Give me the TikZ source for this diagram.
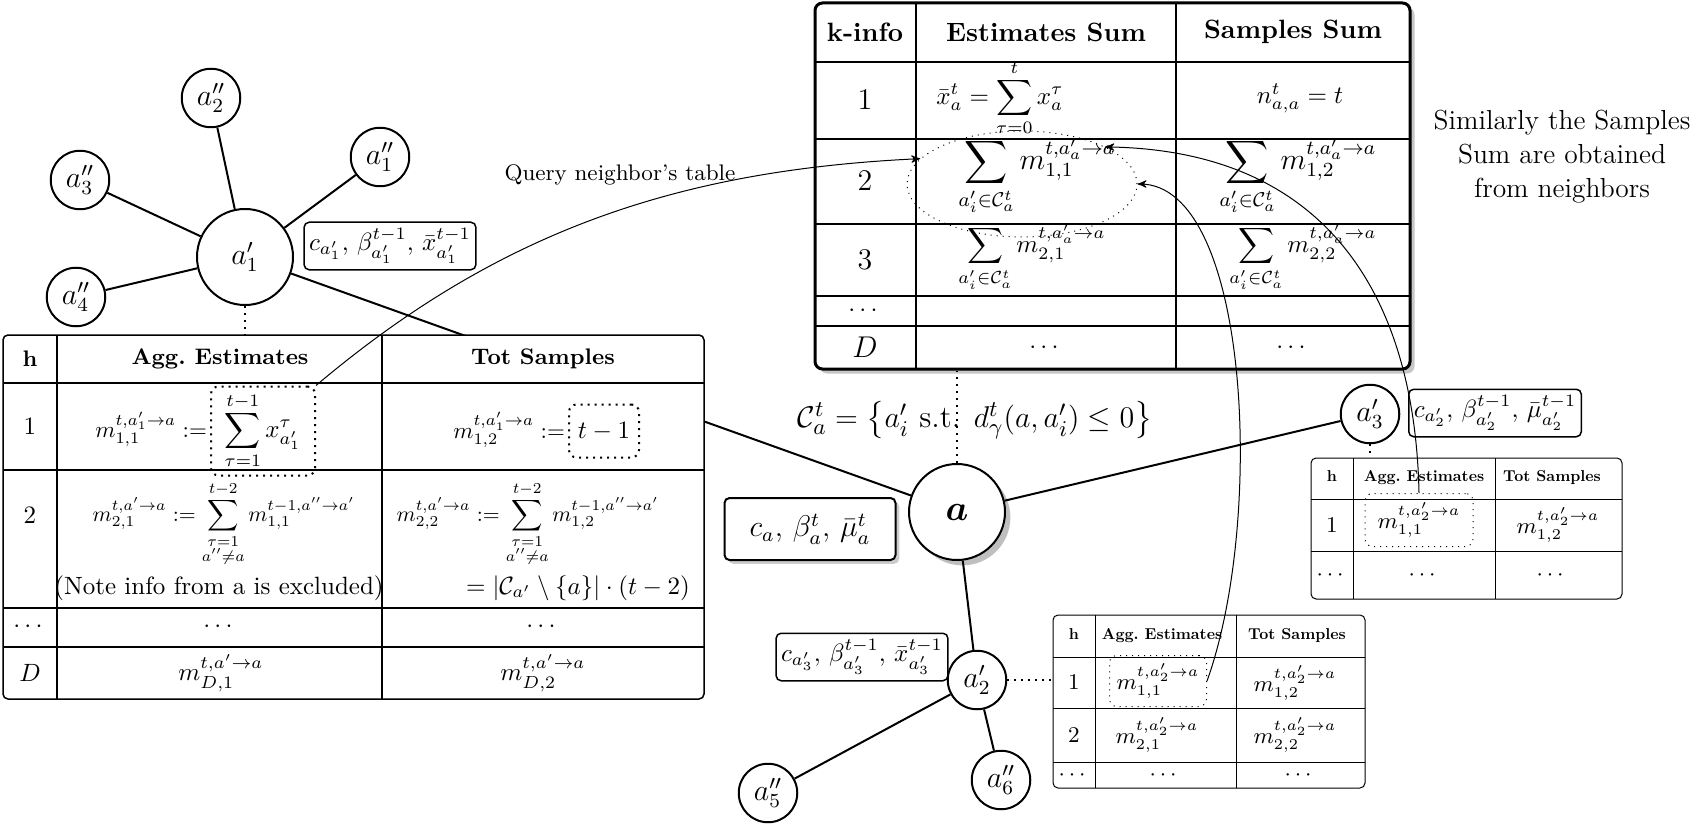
\documentclass[tikz,border=0pt]{standalone}
\usepackage{amsmath,amssymb}
\usepackage{bm}
\usetikzlibrary{arrows,shapes,positioning,fit,shadows}

\begin{document}
\begin{tikzpicture}[x=0.4pt, y=-0.4pt, >=stealth',
		agent/.style={circle, draw, thick, fill=white, inner sep=0pt, font=\large},
		bigagent/.style={agent, minimum size=38.4pt},
		smallagent/.style={agent, minimum size=23.4pt},
		link/.style={thick},
		dotlink/.style={thick, dotted},
		info/.style={draw, semithick, fill=white, rounded corners=2pt, inner sep=2pt, minimum width=61.2pt, minimum height=19pt},
		tab/.style={draw, fill=white, inner sep=0pt},
		cellbox/.style={draw, dotted, thick, rounded corners=3pt, inner sep=1pt},
		khead/.style={font=\fontsize{10.6}{12}\selectfont\bfseries},
		lhead/.style={font=\small\bfseries},
		shead/.style={font=\bfseries}]
	\useasboundingbox (0,0) rectangle (1704,825);

	\node[bigagent, drop shadow] (a) at (957,512) {\Large$\bm{a}$};
	\node[bigagent] (a1p) at (245,257) {$a'_1$};
	\node[smallagent] (a3p) at (1370,414) {$a'_3$};
	\node[smallagent] (a2p) at (977,680) {$a'_2$};
	\node[smallagent] (a1pp) at (380,157) {$a''_1$};
	\node[smallagent] (a2pp) at (211,98) {$a''_2$};
	\node[smallagent] (a3pp) at (80,180) {$a''_3$};
	\node[smallagent] (a4pp) at (76,297) {$a''_4$};
	\node[smallagent] (a5pp) at (768,793) {$a''_5$};
	\node[smallagent] (a6pp) at (1001,780) {$a''_6$};
	\path[link] (a1p) edge (a1pp) edge (a2pp) edge (a3pp) edge (a4pp) edge (a)
		(a) edge (a3p) edge (a2p)
		(a2p) edge (a5pp) edge (a6pp);

	% table of a
	\node[tab, very thick, rounded corners=3pt, drop shadow={shadow xshift=1.8pt, shadow yshift=-1.8pt, opacity=0.45}, fit={(815,3) (1410,369)}] (ktab) {};
	\draw[thick] (916,3) -- (916,369) (1176,3) -- (1176,369);
	\draw[thick] (815,62) -- (1410,62) (815,139) -- (1410,139) (815,224) -- (1410,224)
		(815,296) -- (1410,296) (815,326) -- (1410,326);
	\node[khead] (kinfo) at (865,32) {k-info};
	\node[khead] (kest) at (1046,32) {Estimates Sum};
	\node[khead] (ksmp) at (1293,32) {Samples Sum};
	\node[font=\large] (kone) at (865,100) {1};
	\node (xbar) at (1000,98) {$\displaystyle\bar{x}^t_a=\sum_{\tau=0}^{t}x^{\tau}_a$};
	\node (naa) at (1300,98) {$n^t_{a,a}=t$};
	\node[font=\large] (ktwo) at (865,181) {2};
	\node[font=\large] (est2) at (1037,177) {$\displaystyle\sum_{a'_i\in\mathcal{C}^t_a} m^{t,a'_a\to a}_{1,1}$};
	\node[font=\large] (smp2) at (1298,177) {$\displaystyle\sum_{a'_i\in\mathcal{C}^t_a} m^{t,a'_a\to a}_{1,2}$};
	\node[font=\large] (kthree) at (865,260) {3};
	\node (est3) at (1032,258) {$\displaystyle\sum_{a'_i\in\mathcal{C}^t_a} m^{t,a'_a\to a}_{2,1}$};
	\node (smp3) at (1303,258) {$\displaystyle\sum_{a'_i\in\mathcal{C}^t_a} m^{t,a'_a\to a}_{2,2}$};
	\node (kdots) at (865,311) {$\cdots$};
	\node[font=\large] (kD) at (865,347) {$D$};
	\node (kestD) at (1046,348) {$\cdots$};
	\node (ksmpD) at (1293,348) {$\cdots$};
	\node[draw, dotted, ellipse, minimum width=92pt, minimum height=42.4pt] (ell) at (1022,184) {};

	% table of a'_1
	\node[tab, semithick, rounded corners=2pt, fit={(3,335) (704,699)}] (h1tab) {};
	\draw[semithick] (57,335) -- (57,699) (382,335) -- (382,699);
	\draw[semithick] (3,383) -- (704,383) (3,470) -- (704,470) (3,608) -- (704,608) (3,647) -- (704,647);
	\node[lhead] (hh) at (30,359) {h};
	\node[lhead] (hagg) at (220,359) {Agg.\ Estimates};
	\node[lhead] (htot) at (543,359) {Tot Samples};
	\node (hone) at (30,426) {1};
	\node[cellbox, minimum width=41.6pt, minimum height=35.6pt] (xsum) at (263,431) {$\displaystyle\sum_{\tau=1}^{t-1}x^{\tau}_{a'_1}$};
	\node[anchor=base east, inner sep=1pt] (m11) at (xsum.base west) {\scalebox{0.92}{$m^{t,a'_1\to a}_{1,1}:=$}};
	\node[cellbox, minimum width=28pt, minimum height=21.2pt] (tsub) at (604,431) {$t-1$};
	\node[anchor=base east, inner sep=1pt] (m12) at (tsub.base west) {\scalebox{0.92}{$m^{t,a'_1\to a}_{1,2}:=$}};
	\node (htwo) at (30,515) {2};
	\node[anchor=base] (m21) at (224,521) {\scalebox{0.87}{$m^{t,a'\to a}_{2,1}:=\displaystyle\sum_{\substack{\tau=1\\a''\neq a}}^{t-2} m^{t-1,a''\to a'}_{1,1}$}};
	\node[anchor=base] (note) at (219,594) {(Note info from a is excluded)};
	\node[anchor=base] (m22) at (528,521) {\scalebox{0.87}{$m^{t,a'\to a}_{2,2}:=\displaystyle\sum_{\substack{\tau=1\\a''\neq a}}^{t-2} m^{t-1,a''\to a'}_{1,2}$}};
	\node[anchor=base] (m22eq) at (578,594) {$=|\mathcal{C}_{a'}\setminus\{a\}|\cdot(t-2)$};
	\node (hdots) at (30,627) {$\cdots$};
	\node (haggdots) at (220,627) {$\cdots$};
	\node (htotdots) at (543,627) {$\cdots$};
	\node (hD) at (30,673) {$D$};
	\node (mD1) at (221,673) {$m^{t,a'\to a}_{D,1}$};
	\node (mD2) at (543,673) {$m^{t,a'\to a}_{D,2}$};

	% table of a'_3
	\node[tab, thin, rounded corners=2pt, fit={(1311,458) (1622,599)}] (t3tab) {};
	\draw[thin] (1353,458) -- (1353,599) (1495,458) -- (1495,599);
	\draw[thin] (1311,499) -- (1622,499) (1311,551) -- (1622,551);
	\node[shead] (t3h) at (1332,476) {\scalebox{0.63}{h}};
	\node[shead] (t3agg) at (1424,478) {\scalebox{0.63}{Agg.\ Estimates}};
	\node[shead] (t3tot) at (1552,478) {\scalebox{0.63}{Tot Samples}};
	\node[font=\small] (t3one) at (1332,525) {1};
	\node[cellbox, thin, font=\small, minimum width=43.2pt, minimum height=21.2pt] (t3m11) at (1419,520) {$m^{t,a'_2\to a}_{1,1}$};
	\node[font=\small] (t3m12) at (1558,525) {$m^{t,a'_2\to a}_{1,2}$};
	\node[font=\small] (t3dots) at (1332,575) {$\cdots$};
	\node[font=\small] (t3aggdots) at (1424,575) {$\cdots$};
	\node[font=\small] (t3totdots) at (1552,575) {$\cdots$};

	% table of a'_2
	\node[tab, thin, rounded corners=2pt, fit={(1053,615) (1365,788)}] (t2tab) {};
	\draw[thin] (1095,615) -- (1095,788) (1236,615) -- (1236,788);
	\draw[thin] (1053,657) -- (1365,657) (1053,708) -- (1365,708) (1053,762) -- (1365,762);
	\node[shead] (t2h) at (1074,634) {\scalebox{0.63}{h}};
	\node[shead] (t2agg) at (1162,636) {\scalebox{0.63}{Agg.\ Estimates}};
	\node[shead] (t2tot) at (1297,636) {\scalebox{0.63}{Tot Samples}};
	\node[font=\small] (t2one) at (1074,682) {1};
	\node[cellbox, thin, font=\small, minimum width=38.8pt, minimum height=20.4pt] (t2m11) at (1158,681) {$m^{t,a'_2\to a}_{1,1}$};
	\node[font=\small] (t2m12) at (1295,683) {$m^{t,a'_2\to a}_{1,2}$};
	\node[font=\small] (t2two) at (1074,735) {2};
	\node[font=\small] (t2m21) at (1157,735) {$m^{t,a'_2\to a}_{2,1}$};
	\node[font=\small] (t2m22) at (1295,735) {$m^{t,a'_2\to a}_{2,2}$};
	\node[font=\small] (t2dots) at (1074,775) {$\cdots$};
	\node[font=\small] (t2aggdots) at (1165,775) {$\cdots$};
	\node[font=\small] (t2totdots) at (1300,775) {$\cdots$};

	% local values
	\node[info, thick, minimum width=68.4pt, minimum height=24.8pt, drop shadow={shadow xshift=1.5pt, shadow yshift=-1.5pt, opacity=0.4}, font=\large] (pa) at (810,529) {$c_a,\, \beta^t_a,\, \bar{\mu}^t_a$};
	\node[info] (pa1) at (390,246) {$c_{a'_1},\, \beta^{t-1}_{a'_1},\, \bar{x}^{t-1}_{a'_1}$};
	\node[info] (pa2) at (1495,413) {$c_{a'_2},\, \beta^{t-1}_{a'_2},\, \bar{\mu}^{t-1}_{a'_2}$};
	\node[info] (pa3) at (862,657) {$c_{a'_3},\, \beta^{t-1}_{a'_3},\, \bar{x}^{t-1}_{a'_3}$};

	\node[font=\fontsize{12.5}{15}\selectfont] (cset) at (975,420) {$\mathcal{C}^t_a=\bigl\{a'_i\text{ s.t. } d^t_\gamma(a,a'_i)\le 0\bigr\}$};
	\node[font=\small] (qlabel) at (620,175) {Query neighbor's table};
	\node[align=center, font=\fontsize{11}{13.6}\selectfont] (simlabel) at (1562,157) {Similarly the Samples\\Sum are obtained\\from neighbors};

	\draw[dotlink] (a1p) -- (a1p |- h1tab.north);
	\draw[dotlink] (a) -- (a |- ktab.south);
	\draw[dotlink] (a3p) -- (a3p |- t3tab.north);
	\draw[dotlink] (a2p) -- (a2p -| t2tab.west);

	\draw[->, thin] (xsum.north east) .. controls (500,230) and (680,170) .. (ell.166);
	\draw[->, thin] (t2m11.east) .. controls (1265,520) and (1250,184) .. (ell.east);
	\draw[->, thin] (t3m11.north) .. controls (1415,300) and (1330,150) .. (ell.24);
\end{tikzpicture}
\end{document}
